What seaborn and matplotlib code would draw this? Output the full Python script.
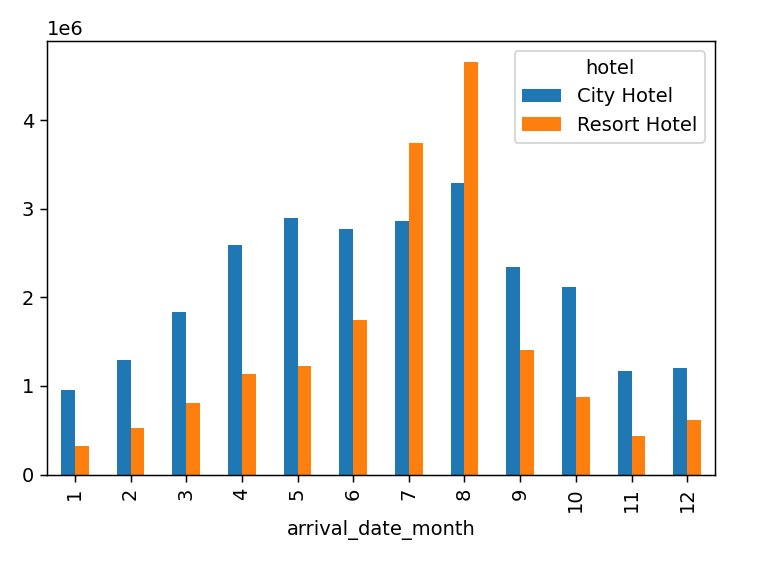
import pandas as pd
import matplotlib
matplotlib.use('Agg')
import matplotlib.pyplot as plt
import seaborn as sns

# months and summed values per hotel type
months = list(range(1, 13))
hotels = ['City Hotel', 'Resort Hotel']
city_hotel = [0.95e6, 1.29e6, 1.83e6, 2.59e6, 2.90e6, 2.77e6,
              2.86e6, 3.29e6, 2.34e6, 2.12e6, 1.17e6, 1.20e6]
resort_hotel = [0.32e6, 0.53e6, 0.81e6, 1.13e6, 1.22e6, 1.74e6,
                3.74e6, 4.66e6, 1.40e6, 0.88e6, 0.43e6, 0.61e6]

# long format table for seaborn
df = pd.DataFrame({
    'arrival_date_month': months * 2,
    'hotel': [hotels[0]] * 12 + [hotels[1]] * 12,
    'value': city_hotel + resort_hotel,
})

plt.rcParams['font.size'] = 10.5

dpi = 134
fig = plt.figure(figsize=(768 / dpi, 570 / dpi), dpi=dpi)
ax = fig.add_axes([47 / 768, (570 - 474.5) / 570, (715 - 47) / 768, (474.5 - 41) / 570])

sns.barplot(data=df, x='arrival_date_month', y='value', hue='hotel',
            palette=['#1f77b4', '#ff7f0e'], saturation=1, width=0.5, ax=ax)

ax.set_ylabel('')
ax.set_xlabel('arrival_date_month')
ax.tick_params(axis='x', rotation=90)
ax.set_yticks([0, 1e6, 2e6, 3e6, 4e6])
ax.legend(title='hotel', loc='upper right')

plt.savefig('out.png', dpi=dpi)
